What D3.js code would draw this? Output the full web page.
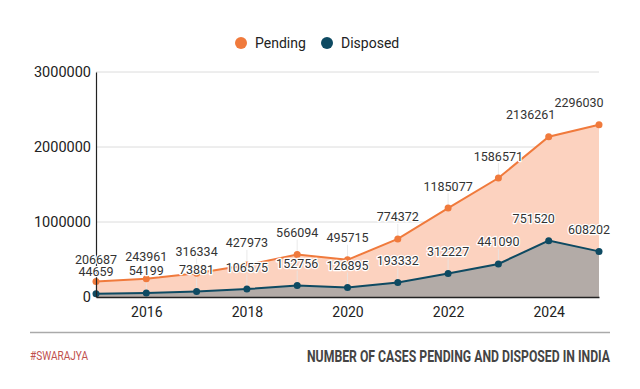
<!DOCTYPE html>
<html>
<head>
<meta charset="utf-8">
<script src="https://cdn.jsdelivr.net/npm/d3@7"></script>
<style>
  body { margin: 0; background: #fff; }
  text { font-family: Roboto, "Noto Sans", sans-serif; }
</style>
</head>
<body>
<div class="chart"></div>
<script>
// data
const years = [2015, 2016, 2017, 2018, 2019, 2020, 2021, 2022, 2023, 2024, 2025];
const pending = [206687, 243961, 316334, 427973, 566094, 495715, 774372, 1185077, 1586571, 2136261, 2296030];
const disposed = [44659, 54199, 73881, 106575, 152756, 126895, 193332, 312227, 441090, 751520, 608202];
const yTicks = [0, 1000000, 2000000, 3000000];
const xTicks = [2016, 2018, 2020, 2022, 2024];

const W = 640, H = 389;

const svg = d3.select(".chart").append("svg")
    .attr("width", W)
    .attr("height", H);

const x = d3.scaleLinear().domain([2015, 2025]).range([96, 599]);
const y = d3.scaleLinear().domain([0, 3000000]).range([297, 72]);

// gridlines
svg.append("g")
  .selectAll("line")
  .data(yTicks.filter(d => d > 0))
  .enter().append("line")
    .attr("x1", 96).attr("x2", 599)
    .attr("y1", d => y(d)).attr("y2", d => y(d))
    .attr("stroke", "#dcdcdc")
    .attr("stroke-width", 1);

const pData = years.map((yr, i) => ({year: yr, v: pending[i]}));
const dData = years.map((yr, i) => ({year: yr, v: disposed[i]}));

const area = d3.area().x(d => x(d.year)).y0(y(0)).y1(d => y(d.v));
const line = d3.line().x(d => x(d.year)).y(d => y(d.v));

svg.append("path").datum(pData).attr("d", area).attr("fill", "#fcd2bf");
svg.append("path").datum(dData).attr("d", area).attr("fill", "#b3aba7");

// leader lines
const labelNudge = {"p2024": -18, "p2025": -20, "d2024": -15, "d2025": -10};
function leaders(data, key) {
  svg.append("g").selectAll("line")
    .data(data).enter().append("line")
      .attr("x1", d => x(d.year)).attr("x2", d => x(d.year))
      .attr("y1", d => y(d.v) - 15).attr("y2", d => y(d.v))
      .attr("stroke", "#e6e6e6")
      .attr("stroke-width", 1)
      .attr("opacity", d => labelNudge[key + d.year] ? 0 : 0.8);
}
leaders(pData, "p");
leaders(dData, "d");

svg.append("path").datum(pData).attr("d", line)
   .attr("fill", "none").attr("stroke", "#f07a3c").attr("stroke-width", 2);
svg.append("path").datum(dData).attr("d", line)
   .attr("fill", "none").attr("stroke", "#0e4a62").attr("stroke-width", 2);

svg.append("g").selectAll("circle").data(pData).enter().append("circle")
   .attr("cx", d => x(d.year)).attr("cy", d => y(d.v)).attr("r", 3.5).attr("fill", "#f07a3c");
svg.append("g").selectAll("circle").data(dData).enter().append("circle")
   .attr("cx", d => x(d.year)).attr("cy", d => y(d.v)).attr("r", 3.5).attr("fill", "#0e4a62");

// axes
const yaxis = svg.append("g")
    .attr("transform", "translate(96,0)")
    .call(d3.axisLeft(y).tickValues(yTicks).tickSize(0).tickPadding(5).tickFormat(d3.format("d")));
yaxis.select(".domain").attr("stroke", "#222").attr("stroke-width", 1.2);
yaxis.selectAll("text").attr("font-size", "14.5px").attr("fill", "#222")
     .attr("font-family", "Roboto, sans-serif");

const xaxis = svg.append("g")
    .attr("transform", "translate(0,297)")
    .call(d3.axisBottom(x).tickValues(xTicks).tickSize(0).tickPadding(10).tickFormat(d3.format("d")));
xaxis.select(".domain").attr("stroke", "#222").attr("stroke-width", 1.5);
xaxis.selectAll("text").attr("font-size", "14px").attr("fill", "#222")
     .attr("font-family", "Roboto, sans-serif");

// value labels
function labels(data, key) {
  svg.append("g").selectAll("text")
    .data(data).enter().append("text")
      .attr("x", d => x(d.year) + (labelNudge[key + d.year] || 0))
      .attr("y", d => y(d.v) - 17.5)
      .attr("text-anchor", "middle")
      .attr("font-size", "12.5px")
      .attr("fill", "#333")
      .attr("stroke", "#fff")
      .attr("stroke-width", 2.5)
      .attr("stroke-linejoin", "round")
      .attr("paint-order", "stroke")
      .text(d => d.v);
}
labels(pData, "p");
labels(dData, "d");

// legend
const legend = [["Pending", "#f07a3c", 241], ["Disposed", "#0e4a62", 327]];
legend.forEach(l => {
  svg.append("circle").attr("cx", l[2]).attr("cy", 43).attr("r", 6).attr("fill", l[1]);
  svg.append("text").attr("x", l[2] + 14).attr("y", 48)
     .attr("font-size", "14px").attr("fill", "#222").text(l[0]);
});

// footer
svg.append("line")
   .attr("x1", 30).attr("x2", 610).attr("y1", 332.5).attr("y2", 332.5)
   .attr("stroke", "#aaa").attr("stroke-width", 1.5);

svg.append("text")
   .attr("x", 30).attr("y", 360)
   .attr("font-family", "'DejaVu Sans Condensed', 'Liberation Sans Narrow', sans-serif")
   .attr("font-size", "12.5px")
   .attr("fill", "#c0504d")
   .attr("textLength", 58)
   .attr("lengthAdjust", "spacingAndGlyphs")
   .text("#SWARAJYA");

svg.append("text")
   .attr("x", 610).attr("y", 361.5)
   .attr("text-anchor", "end")
   .attr("font-family", "'DejaVu Sans Condensed', 'Liberation Sans Narrow', sans-serif")
   .attr("font-weight", "bold")
   .attr("font-size", "16px")
   .attr("fill", "#444")
   .attr("textLength", 303)
   .attr("lengthAdjust", "spacingAndGlyphs")
   .text("NUMBER OF CASES PENDING AND DISPOSED IN INDIA");
</script>
</body>
</html>
